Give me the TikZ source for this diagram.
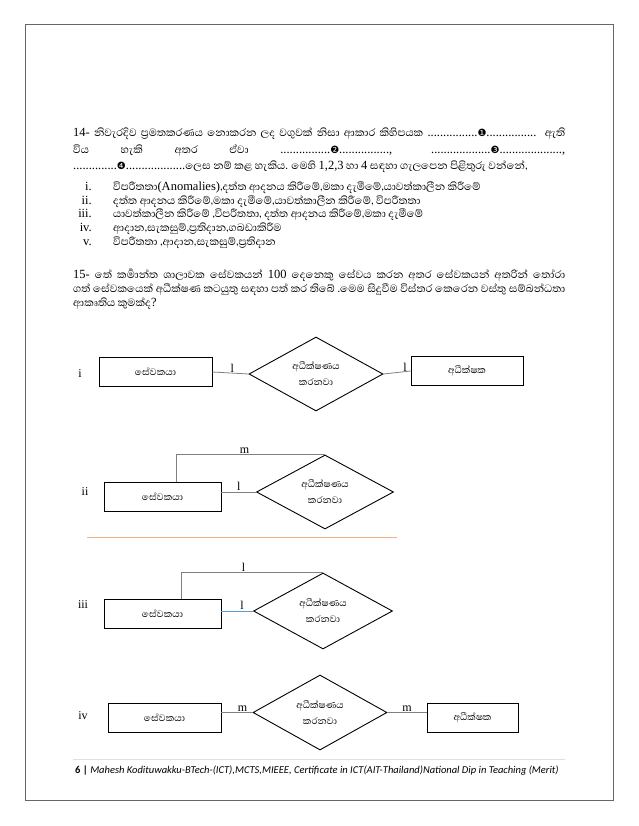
\documentclass[tikz,border=0pt]{standalone}
\usepackage{fontspec}
\usepackage{graphicx}
\setmainfont{Liberation Serif}
\newfontfamily\sinhalafont[Script=Sinhala]{Abhaya Libre}
\newfontfamily\dingfont{DejaVu Sans}
\newfontfamily\footfont{Carlito}
\usetikzlibrary{shapes.geometric}
\newcommand{\tnr}[1]{{\rmfamily\fontsize{12.5}{15}\selectfont #1}}
\newcommand{\dg}[1]{{\dingfont\fontsize{10}{12}\selectfont #1}}
% one justified line of the question text
\newcommand{\jline}[1]{\sbox0{#1}\ifdim\wd0>492pt\resizebox{492pt}{\height}{#1}\else\makebox[492pt][s]{#1}\fi}
\definecolor{sep}{HTML}{F4B183}
\definecolor{lnkblue}{HTML}{5B9BD5}
\begin{document}
\begin{tikzpicture}[x=1pt,y=-1pt,
 txt/.style={anchor=base west,inner sep=0,font=\fontsize{13.5}{16}\sinhalafont},
 ent/.style={draw,line width=.9pt,minimum width=#1,minimum height=29,inner sep=0,font=\fontsize{12}{14}\sinhalafont},
 ent/.default=113,
 rel/.style={diamond,draw,line width=.9pt,minimum width=134,minimum height=74,inner sep=0,align=center,font=\fontsize{12}{16}\sinhalafont},
 lnk/.style={draw=gray,line width=.8pt},
 card/.style={above,inner sep=1pt,font=\fontsize{12}{12}\selectfont},
 tag/.style={inner sep=0,font=\fontsize{12}{12}\selectfont}]
 \useasboundingbox (0,0) rectangle (638,826);
 \draw[gray!80!black,line width=1pt] (25,25) rectangle (613,800);
 % question 14
 \node[txt] (q14a) at (73,137) {\jline{\tnr{14-} නිවැරදිව ප්^^^^200dරමතකරණය නොකරන ලද වගුවක් නිසා ආකාර කිහිපයක \tnr{................}\dg{❶}\tnr{................} ඇති}};
 \node[txt] (q14b) at (73,154) {\jline{විය හැකි අතර ඒවා \tnr{................}\dg{❷}\tnr{................,} \tnr{...................}\dg{❸}\tnr{....................,}}};
 \node[txt] (q14c) at (73,170) {\tnr{..............}\dg{❹}\tnr{...................}ලෙස නම් කළ හැකිය. මෙහි \tnr{1,2,3} හා \tnr{4} සඳහා ගැලපෙන පිළිතුරු වන්නේ,};
 \foreach \r/\t [count=\k] in {
   i./{විපරීතතා\tnr{(Anomalies)},දත්ත ආදනය කිරීමේ,මකා දැමීමේ,යාවත්කාලීන කිරීමේ},
   ii./{දත්ත ආදනය කිරීමේ,මකා දැමීමේ,යාවත්කාලීන කිරීමේ, විපරීතතා},
   iii./{යාවත්කාලීන කිරීමේ ,විපරීතතා, දත්ත ආදනය කිරීමේ,මකා දැමීමේ},
   iv./{ආදාන,සැකසුම්,ප්^^^^200dරතිදාන,ගබඩාකිරීම},
   v./{විපරීතතා ,ආදාන,සැකසුම්,ප්^^^^200dරතිදාන}}{
  \node[txt,anchor=base east] (num\k) at (92,177+13.6*\k) {\tnr{\r}};
  \node[txt] (item\k) at (113,177+13.6*\k) {\t};
 }
 % question 15
 \node[txt] (q15a) at (73,278) {\jline{\tnr{15-} තේ කර්^^^^200dමාන්ත ශාලාවක සේවකයන් \tnr{100} දෙනෙකු සේවය කරන අතර සේවකයන් අතරින් තෝරා}};
 \node[txt] (q15b) at (73,292) {\jline{ගත් සේවකයෙක් අධීක්ෂණ කටයුතු සඳහා පත් කර තිබේ .මෙම සිදුවීම විස්තර කෙරෙන වස්තු සම්බන්ධතා}};
 \node[txt] (q15c) at (73,306) {ආකෘතිය කුමක්ද\tnr{?}};
 % i
 \node[tag] (t1) at (80,374) {i};
 \node[ent] (e1) at (155.5,372) {සේවකයා};
 \node[rel] (r1) at (316,374) {අධීක්ෂණය\\කරනවා};
 \node[ent=112] (s1) at (467,371) {අධීක්ෂක};
 \draw[lnk] (e1.east) -- node[card,pos=.55,inner sep=0] {l} (r1.west);
 \draw[lnk] (r1.east) -- node[card,pos=.8,inner sep=0] {l} (s1.west);
 % ii
 \node[tag] (t2) at (85,492) {ii};
 \node[ent=117] (e2) at (162.5,496.5) {සේවකයා};
 \node[rel,minimum width=137] (r2) at (325,492) {අධීක්ෂණය\\කරනවා};
 \draw[lnk] (e2.east |- r2.west) -- node[card,pos=.5] {l} (r2.west);
 \draw[lnk] ([xshift=13.5pt]e2.north) |- node[card,pos=.73] {m} (r2.north);
 \draw[sep,line width=.8pt] (87,537) -- (397,537);
 % iii
 \node[tag] (t3) at (83,605) {iii};
 \node[ent=117] (e3) at (162.5,614) {සේවකයා};
 \node[rel,minimum width=139,minimum height=76] (r3) at (323,611) {අධීක්ෂණය\\කරනවා};
 \draw[lnk,draw=lnkblue] (e3.east |- r3.west) -- node[card,pos=.65] {l} (r3.west);
 \draw[lnk] ([xshift=18.5pt]e3.north) |- node[card,pos=.72] {l} (r3.north);
 % iv
 \node[tag] (t4) at (83,716) {iv};
 \node[ent] (e4) at (164.5,717.5) {සේවකයා};
 \node[rel,minimum height=75] (r4) at (320,712.5) {අධීක්ෂණය\\කරනවා};
 \node[ent=91] (s4) at (472.5,717.5) {අධීක්ෂක};
 \draw[lnk] (e4.east |- r4.west) -- node[card,pos=.68] {m} (r4.west);
 \draw[lnk] (r4.east) -- node[card,pos=.5] {m} (s4.west |- r4.east);
 % footer
 \draw[gray!25,line width=.8pt] (73,759) -- (565,759);
 \node[anchor=base west,inner sep=0,font=\fontsize{10.5}{12}\footfont] (foot) at (75,773)
  {\textbf{6 |} \textit{Mahesh Kodituwakku-BTech-(ICT),MCTS,MIEEE, Certificate in ICT(AIT-Thailand)National Dip in Teaching (Merit)}};
\end{tikzpicture}
\end{document}
